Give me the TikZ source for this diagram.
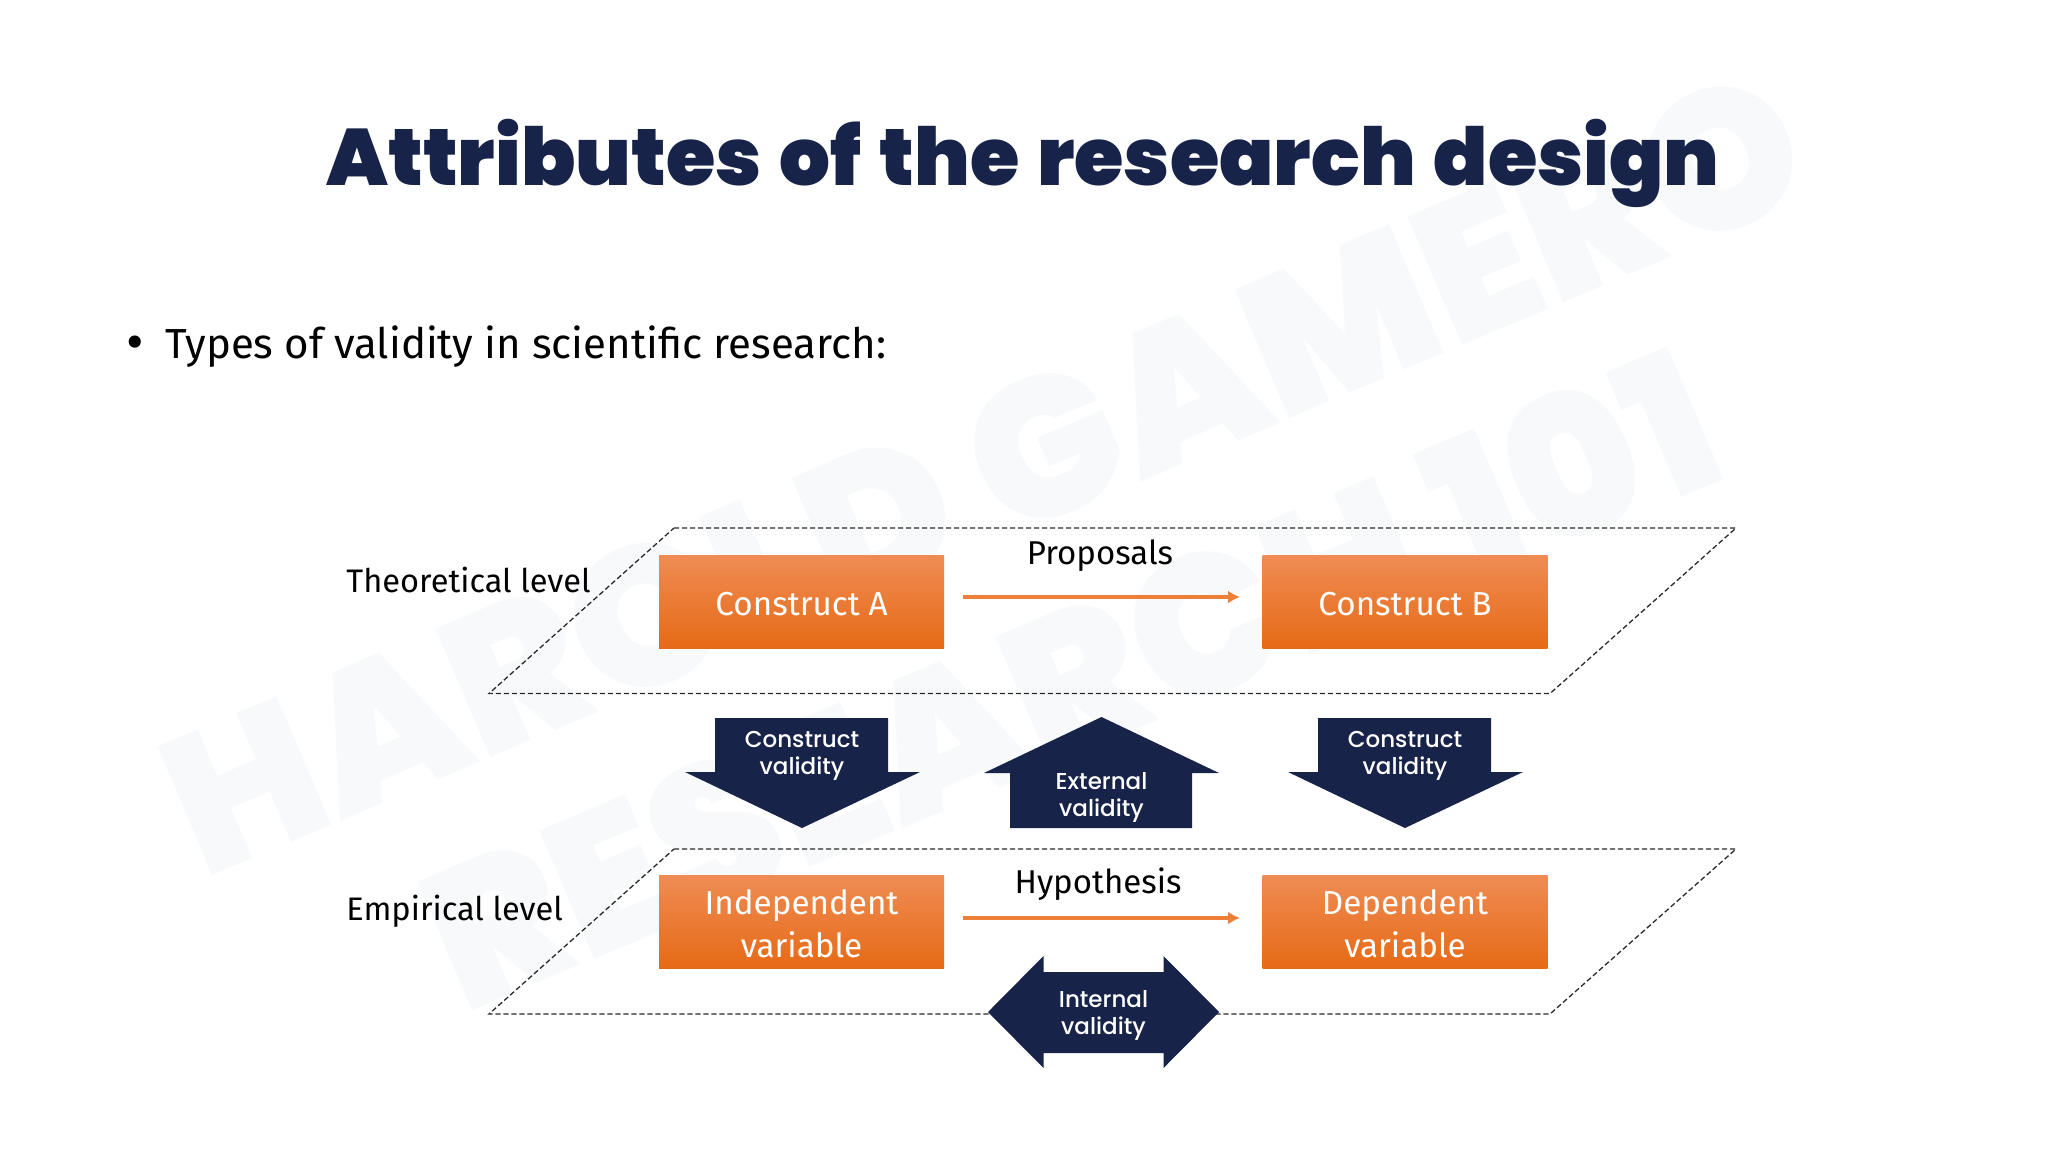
\documentclass[tikz,border=0pt]{standalone}
\usepackage{fontspec}
\setmainfont{Fira Sans}
\newfontfamily\titlef{Poppins Black}
\newfontfamily\labelf{Poppins Medium}
\newfontfamily\markf{Poppins Black}
\newcommand\lowr[1]{\raisebox{-1.2pt}[\height][\depth]{#1}}
\definecolor{navy}{HTML}{172348}
\definecolor{orangeT}{HTML}{EF8C54}
\definecolor{orangeM}{HTML}{F37B25}
\definecolor{orangeB}{HTML}{E66A16}
\definecolor{arrowO}{HTML}{EE7F36}
\definecolor{mark}{HTML}{F8F9FB}
\definecolor{dashc}{HTML}{2A2A2A}
\tikzset{
 plane/.style={draw=dashc,line width=0.65pt,dash pattern=on 2.6pt off 1.4pt},
 orangebox/.style={minimum width=142.5pt,minimum height=46.5pt,inner sep=0pt,align=center,text=white,font=\fontsize{16.6}{21.5}\selectfont,
   path picture={\shade[top color=orangeT,middle color=orangeM,bottom color=orangeB] (path picture bounding box.south west) rectangle (path picture bounding box.north east);}},
 level/.style={anchor=base west,inner sep=0pt,text=black,font=\fontsize{16.3}{21}\selectfont},
 rel/.style={anchor=base,inner sep=0pt,text=black,font=\fontsize{16.5}{21}\selectfont},
 navyshape/.style={fill=navy},
 arrowlabel/.style={inner sep=0pt,align=center,text=white,font=\labelf\fontsize{11.5}{13.5}\selectfont},
 orangearrow/.style={draw=arrowO,line width=1.7pt,-{Latex[length=6pt,width=6.5pt]}},
}
\usetikzlibrary{arrows.meta}
\begin{document}
\begin{tikzpicture}[x=0.5pt,y=-0.5pt]
\useasboundingbox (0,0) rectangle (2048,1152);
% watermark
\node (wm1) [rotate=23,text=mark,inner sep=0pt,font=\markf\fontsize{98.7}{98}\selectfont] at (984,472) {HAROLD GAMERO};
\node (wm2) [rotate=23,text=mark,inner sep=0pt,font=\markf\fontsize{98.7}{98}\selectfont] at (1070,678) {RESEARCH 101};
% title and bullet
\node (title) [anchor=base,inner sep=0pt,text=navy,font=\titlef\fontsize{40}{48}\selectfont] at (1023,185) {\spaceskip=9pt\relax Attributes of the research design};
\node (bullet) [anchor=base,inner sep=0pt,text=black,font=\fontsize{27}{30}\selectfont] at (135,360) {•};
\node (types) [anchor=base west,inner sep=0pt,text=black,font=\fontsize{21}{24}\selectfont] at (165,358) {Types of validity in scientific research:};
% planes
\coordinate (p1a) at (674,528); \coordinate (p1b) at (1736,528); \coordinate (p1c) at (1550,693.5); \coordinate (p1d) at (489,693.5);
\coordinate (p2a) at (674,849); \coordinate (p2b) at (1736,849); \coordinate (p2c) at (1550,1014); \coordinate (p2d) at (489,1014);
\draw[plane] (p1a) -- (p1b) -- (p1c) -- (p1d) -- cycle;
\draw[plane] (p2a) -- (p2b) -- (p2c) -- (p2d) -- cycle;
% boxes
\node (ca) [orangebox] at (801.5,601.5) {\lowr{Construct A}};
\node (cb) [orangebox] at (1405,601.5) {\lowr{Construct B}};
\node (iv) [orangebox] at (801.5,921.5) {\lowr{Independent}\\\lowr{variable}};
\node (dv) [orangebox] at (1405,921.5) {\lowr{Dependent}\\\lowr{variable}};
% orange arrows
\coordinate (a1s) at (963,597); \coordinate (a1e) at (1240,597);
\coordinate (a2s) at (963,918); \coordinate (a2e) at (1240,918);
\draw[orangearrow] (a1s) -- (a1e);
\draw[orangearrow] (a2s) -- (a2e);
\node (prop) [rel] at (1100,564) {Proposals};
\node (hyp) [rel] at (1098,893) {Hypothesis};
\node (tl) [level] at (346,592) {Theoretical level};
\node (el) [level] at (346,920) {Empirical level};
% navy arrows
\fill[navyshape] (715,718) -- (888,718) -- (888,772) -- (920,772) -- (802,828) -- (685,772) -- (715,772) -- cycle;
\fill[navyshape] (1318,718) -- (1491,718) -- (1491,772) -- (1523,772) -- (1405,828) -- (1288,772) -- (1318,772) -- cycle;
\fill[navyshape] (1101.5,717) -- (1219,773) -- (1192,773) -- (1192,828) -- (1010,828) -- (1010,773) -- (984,773) -- cycle;
\fill[navyshape] (988,1012) -- (1043.5,956) -- (1043.5,972) -- (1163.5,972) -- (1163.5,956) -- (1219,1012) -- (1163.5,1068) -- (1163.5,1053) -- (1043.5,1053) -- (1043.5,1068) -- cycle;
\node (v1) [arrowlabel] at (802,755.5) {Construct\\validity};
\node (v2) [arrowlabel] at (1405,755.5) {Construct\\validity};
\node (v3) [arrowlabel] at (1101.5,797.5) {External\\validity};
\node (v4) [arrowlabel] at (1103.5,1015) {Internal\\validity};
\end{tikzpicture}
\end{document}
